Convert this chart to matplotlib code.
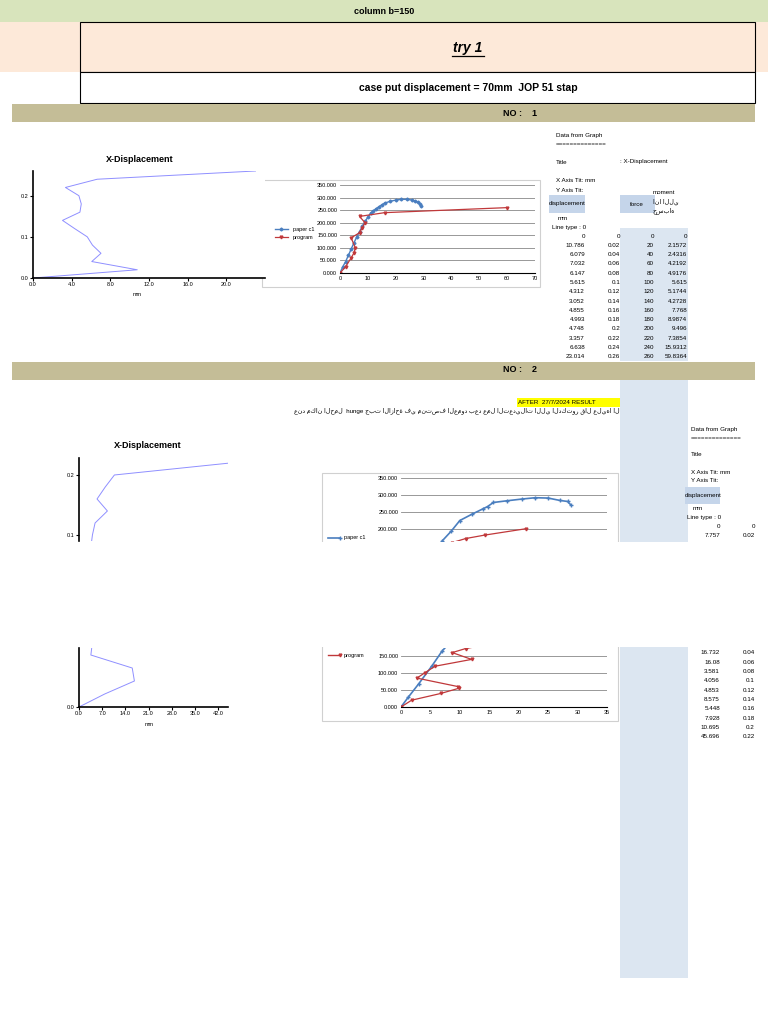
import matplotlib
matplotlib.use("Agg")
import matplotlib.pyplot as plt
from matplotlib.patches import Rectangle

plt.rcParams["font.family"] = ["Liberation Sans", "DejaVu Sans"]

W, H = 768, 1024

# ---- data: sheet 1 ----
height1 = [0, 0.02, 0.04, 0.06, 0.08, 0.1, 0.12, 0.14, 0.16, 0.18, 0.2, 0.22, 0.24, 0.26]
disp1 = [0, 10.786, 6.079, 7.032, 6.147, 5.615, 4.312, 3.052, 4.855, 4.993, 4.748, 3.357, 6.638, 23.014]
force1 = [0, 20, 40, 60, 80, 100, 120, 140, 160, 180, 200, 220, 240, 260]
moment1 = [0, 2.1572, 2.4316, 4.2192, 4.9176, 5.615, 5.1744, 4.2728, 7.768, 8.9874, 9.496, 7.3854, 15.9312, 59.8364]

paper_x = [0, 1, 2, 3, 4, 5, 6, 7, 8, 9, 10, 11, 12, 13, 14, 15, 16, 18, 20, 22, 24, 26, 27, 28, 28.7, 29]
paper_y = [0, 25, 45, 70, 95, 120, 143, 165, 185, 205, 222, 238, 248, 256, 264, 271, 278, 285, 290, 293, 293, 290, 286, 281, 276, 268]
prog1_x = [0, 2, 4, 5, 5.5, 4, 7, 8, 9, 7, 16, 60]
prog1_y = [0, 25, 60, 80, 100, 140, 160, 180, 200, 225, 240, 260]

# ---- data: sheet 2 ----
height2 = [0, 0.02, 0.04, 0.06, 0.08, 0.1, 0.12, 0.14, 0.16, 0.18, 0.2, 0.22]
disp2 = [0, 7.757, 16.732, 16.08, 3.581, 4.056, 4.853, 8.575, 5.448, 7.928, 10.695, 45.696]
paper2_x = [0, 1.2, 3, 5.3, 7, 8.5, 10, 12, 14, 14.7, 15.7, 18, 20.5, 22.8, 25, 27, 28.3, 28.9]
paper2_y = [0, 28, 68, 122, 165, 193, 225, 243, 260, 266, 278, 283, 288, 292, 291, 284, 281, 270]
prog2_x = [0, 1.8, 6.8, 9.8, 9.7, 2.7, 4, 5.8, 12, 8.7, 11, 14.2, 21.3]
prog2_y = [0, 20, 40, 55, 60, 85, 100, 120, 140, 160, 172, 182, 201]

BLUE = "#4a7ebf"
RED = "#c0383a"
LAV = "#8f8fff"

fig = plt.figure(figsize=(W / 100, H / 100), dpi=100)


def px_axes(x0, y0, x1, y1, z=1):
    return fig.add_axes([x0 / W, 1 - y1 / H, (x1 - x0) / W, (y1 - y0) / H], zorder=z)


bg = px_axes(0, 0, W, H, z=0)
bg.set_xlim(0, W)
bg.set_ylim(H, 0)
bg.axis("off")


def rect(x0, y0, x1, y1, fc, ec="none", lw=0.8):
    bg.add_patch(Rectangle((x0, y0), x1 - x0, y1 - y0, facecolor=fc, edgecolor=ec, linewidth=lw))


def txt(x, y, s, size=5, ha="left", **kw):
    bg.text(x, y, s, fontsize=size, ha=ha, va="center", **kw)


# header bands
rect(0, 0, 768, 22, "#d8e4bc")
txt(384, 11, "column b=150", 6.5, "center", weight="bold")
rect(0, 22, 768, 72, "#fde9d9")
rect(80, 22, 755, 72, "#fde9d9", "black")
txt(468, 48, "try 1", 10, "center", weight="bold", style="italic")
bg.plot([452, 484], [56, 56], color="black", lw=0.9)
rect(80, 72, 755, 103, "white", "black")
txt(468, 88, "case put displacement = 70mm  JOP 51 stap", 7.5, "center", weight="bold")
rect(12, 104, 755, 122, "#c4bd97")
txt(520, 113, "NO :    1", 6.5, "center", weight="bold")
rect(12, 362, 755, 380, "#c4bd97")
txt(520, 370, "NO :    2", 6.5, "center", weight="bold")

# highlighted cells
rect(620, 228, 688, 361, "#dce6f1")
rect(549, 195, 585, 213, "#c5d5ea")
rect(620, 195, 655, 213, "#c5d5ea")
rect(620, 380, 688, 978, "#dce6f1")
rect(685, 487, 720, 504, "#c5d5ea")
rect(517, 398, 620, 407, "#ffff00")
txt(518, 402, "AFTER  27/7/2024 RESULT", 4.5)
txt(620, 411, "عند مكان الحمل  hunge جبت الازاحة في منتصف العمود بعد عمل التعديلات اللي الدكتور قال عليها ال", 4.5, "right")

# table 1
txt(556, 135, "Data from Graph", 4.5)
txt(556, 145, "==============", 4.5)
txt(556, 162, "Title", 4.5)
txt(620, 162, ": X-Displacement", 4.5)
txt(556, 181, "X Axis Tit: mm", 4.5)
txt(556, 190, "Y Axis Tit:", 4.5)
txt(567, 204, "displacement", 4.5, "center")
txt(637, 204, "force", 4.5, "center")
txt(653, 193, "moment", 4.5)
txt(653, 202, "انا اللي", 4.5)
txt(653, 211, "حسباه", 4.5)
txt(558, 218, "mm", 4.5)
txt(552, 227, "Line type : 0", 4.5)
for i in range(len(disp1)):
    y = 236 + i * 9.3
    txt(585, y, f"{disp1[i]:g}", 4.5, "right")
    txt(620, y, f"{height1[i]:g}", 4.5, "right")
    txt(654, y, f"{force1[i]:g}", 4.5, "right")
    txt(687, y, f"{moment1[i]:g}", 4.5, "right")

# table 2
txt(691, 429, "Data from Graph", 4.5)
txt(691, 439, "==============", 4.5)
txt(691, 455, "Title", 4.5)
txt(691, 472, "X Axis Tit: mm", 4.5)
txt(691, 481, "Y Axis Tit:", 4.5)
txt(703, 495, "displacement", 4.5, "center")
txt(693, 508, "mm", 4.5)
txt(687, 517, "Line type : 0", 4.5)
for i in range(len(disp2)):
    y = 526 + i * 9.3 if i < 2 else 653 + (i - 2) * 9.3
    txt(720, y, f"{disp2[i]:g}", 4.5, "right")
    txt(755, y, f"{height2[i]:g}", 4.5, "right")

# chart frames
rect(262, 180, 540, 287, "white", "#d0d0d0")
rect(322, 473, 618, 721, "white", "#d0d0d0")


def style_disp(ax):
    for s in ["top", "right"]:
        ax.spines[s].set_visible(False)
    ax.spines["left"].set_linewidth(1.2)
    ax.spines["bottom"].set_linewidth(1.2)
    ax.tick_params(labelsize=4, length=2, pad=1)


def style_force(ax):
    ax.set_xlim(0, 35)
    ax.set_yticks(range(0, 351, 50))
    ax.set_yticklabels([f"{v}.000" for v in range(0, 351, 50)])
    ax.grid(axis="y", color="#888888", lw=0.6)
    for s in ["top", "right", "left"]:
        ax.spines[s].set_visible(False)
    ax.tick_params(labelsize=4, length=0, pad=2)


# X-Displacement 1
ax = px_axes(33, 171, 265, 278)
ax.plot(disp1, height1, color=LAV, lw=0.7)
ax.set_xlim(0, 24)
ax.set_ylim(0, 0.26)
ax.set_xticks([0, 4, 8, 12, 16, 20])
ax.set_xticklabels(["0.0", "4.0", "8.0", "12.0", "16.0", "20.0"])
ax.set_yticks([0, 0.1, 0.2])
ax.set_yticklabels(["0.0", "0.1", "0.2"])
style_disp(ax)
txt(140, 159, "X-Displacement", 6.5, "center", weight="bold")
txt(137, 295, "mm", 4, "center")

# paper vs program 1
ax = px_axes(340, 185, 535, 273)
ax.plot(paper_x, paper_y, color=BLUE, marker="D", ms=1.5, lw=1, label="paper c1")
ax.plot(prog1_x, prog1_y, color=RED, marker="v", ms=2, lw=0.9, label="program")
style_force(ax)
ax.set_xlim(0, 70)
ax.set_ylim(0, 350)
ax.legend(loc="center right", bbox_to_anchor=(-0.12, 0.45), fontsize=4, frameon=False,
          handlelength=2.5, borderaxespad=0)

# X-Displacement 2 (page is cut: upper and lower pieces)
ax = px_axes(79, 458, 228, 541)
ax.plot(disp2, height2, color=LAV, lw=0.7)
ax.set_xlim(0, 45)
ax.set_ylim(0.09, 0.2283)
ax.set_xticks([])
ax.set_yticks([0.1, 0.2])
ax.set_yticklabels(["0.1", "0.2"])
style_disp(ax)
ax.spines["bottom"].set_visible(False)
txt(148, 446, "X-Displacement", 6.5, "center", weight="bold", stretch="condensed")

ax = px_axes(79, 648, 228, 707)
ax.plot(disp2, height2, color=LAV, lw=0.7)
ax.set_xlim(0, 45)
ax.set_ylim(0, 0.0908)
ax.set_xticks([0, 7, 14, 21, 28, 35, 42])
ax.set_xticklabels(["0.0", "7.0", "14.0", "21.0", "28.0", "35.0", "42.0"])
ax.set_yticks([0])
ax.set_yticklabels(["0.0"])
style_disp(ax)
txt(149, 725, "mm", 4, "center")

# paper vs program 2 (same cut)
scale = 119 / 350  # px per unit
ax = px_axes(401, 478, 607, 541)
ax.plot(paper2_x, paper2_y, color=BLUE, marker="+", ms=3, lw=1.2)
ax.plot(prog2_x, prog2_y, color=RED, marker="v", ms=2, lw=0.9)
style_force(ax)
ax.set_ylim(350 - 63 / scale, 350)
ax.set_xticks([])
ax.spines["bottom"].set_visible(False)
bg.plot([328, 340], [538, 538], color=BLUE, lw=1.2, marker="+", ms=3, markevery=[1])
txt(344, 538, "paper c1", 4)

ax = px_axes(401, 648, 607, 707)
ax.plot(paper2_x, paper2_y, color=BLUE, marker="+", ms=3, lw=1.2)
ax.plot(prog2_x, prog2_y, color=RED, marker="v", ms=2, lw=0.9)
style_force(ax)
ax.set_ylim(0, 59 / scale)
ax.set_xticks(range(0, 36, 5))
bg.plot([328, 340], [655, 655], color=RED, lw=1, marker="v", ms=2, markevery=[1])
txt(344, 655, "program", 4)

# white band where the page is cut
top = px_axes(0, 0, W, H, z=10)
top.set_xlim(0, W)
top.set_ylim(H, 0)
top.axis("off")
top.patch.set_alpha(0)
top.add_patch(Rectangle((0, 542), W, 105, facecolor="white", edgecolor="none"))

fig.savefig("out.png", dpi=100)
